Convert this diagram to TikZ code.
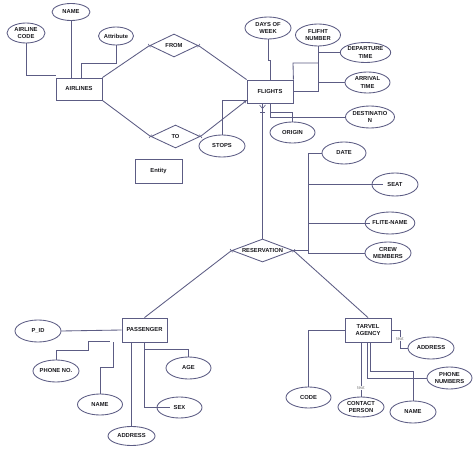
\documentclass[tikz,border=0pt]{standalone}
\usepackage{fontspec}
\setmainfont{Liberation Sans}
\usetikzlibrary{shapes.geometric,arrows.meta}
\definecolor{lc}{RGB}{92,92,132}
\definecolor{tc}{RGB}{25,25,30}
\tikzset{
  lbl/.style={font=\fontsize{5.8}{7.2}\selectfont\bfseries, text=tc, align=center, inner sep=0},
  attrib/.style={ellipse, draw=lc, line width=0.85pt, inner sep=0, lbl},
  ent/.style={rectangle, draw=lc, line width=0.85pt, inner sep=0, lbl},
  rel/.style={diamond, draw=lc, line width=0.85pt, inner sep=0},
  conn/.style={draw=lc, line width=0.85pt},
  tick/.style={-{Bar[width=4pt,line width=0.6pt]}},
  smalltxt/.style={font=\fontsize{4.5}{5}\selectfont, text=black!55, inner sep=0.3pt}
}
\begin{document}
\begin{tikzpicture}[x=1pt,y=-1pt]
\useasboundingbox[fill=white] (0,0) rectangle (474,449);
% entities
\node[ent, minimum width=46, minimum height=22] (airl) at (79,89) {AIRLINES};
\node[ent, minimum width=46, minimum height=23] (flights) at (270,91.5) {FLIGHTS};
\node[ent, minimum width=47, minimum height=24] (entity) at (158.5,171) {Entity};
\node[ent, minimum width=45, minimum height=24] (pass) at (144.5,330) {PASSENGER};
\node[ent, minimum width=46, minimum height=24] (ta) at (368,330) {TARVEL\\AGENCY};
% relationships
\node[rel, minimum width=48, minimum height=23] (from) at (174,45.5) {};
\node[lbl] at (from) {FROM};
\node[rel, minimum width=49, minimum height=23] (to) at (175.5,136.5) {};
\node[lbl] at (to) {TO};
\node[rel, minimum width=61, minimum height=23] (res) at (262.5,250.5) {};
\node[lbl] at (res) {RESERVATION};
% attributes
\node[attrib, minimum width=38, minimum height=20] (acode) at (26,33) {AIRLINE\\CODE};
\node[attrib, minimum width=38, minimum height=17] (aname) at (71,12) {NAME};
\node[attrib, minimum width=35, minimum height=18] (attr) at (116,36) {Attribute};
\node[attrib, minimum width=46, minimum height=22] (stops) at (222,146) {STOPS};
\node[attrib, minimum width=46, minimum height=22] (dow) at (268,28) {DAYS OF\\WEEK};
\node[attrib, minimum width=45, minimum height=22] (fnum) at (318,35) {FLIFHT\\NUMBER};
\node[attrib, minimum width=45, minimum height=20] (dep) at (365.5,52.5) {DEPARTURE\\TIME};
\node[attrib, minimum width=45, minimum height=21] (arr) at (367.5,82.5) {ARRIVAL\\TIME};
\node[attrib, minimum width=46, minimum height=22] (dest) at (370,117) {DESTINATIO\\N};
\node[attrib, minimum width=45, minimum height=21] (orig) at (292.5,132.5) {ORIGIN};
\node[attrib, minimum width=44, minimum height=22] (date) at (344,153) {DATE};
\node[attrib, minimum width=46, minimum height=23] (seat) at (395,184.5) {SEAT};
\node[attrib, minimum width=46, minimum height=22] (fname) at (390,223) {FLITE-NAME};
\node[attrib, minimum width=46, minimum height=22] (crew) at (388,253) {CREW\\MEMBERS};
\node[attrib, minimum width=46, minimum height=22] (pid) at (38,331) {P\_ID};
\node[attrib, minimum width=46, minimum height=22] (phone) at (56,371) {PHONE NO.};
\node[attrib, minimum width=45, minimum height=21] (pname) at (100,404.5) {NAME};
\node[attrib, minimum width=47, minimum height=19] (paddr) at (131.5,436) {ADDRESS};
\node[attrib, minimum width=45, minimum height=22] (age) at (188.5,368) {AGE};
\node[attrib, minimum width=45, minimum height=21] (sex) at (179.5,407.5) {SEX};
\node[attrib, minimum width=45, minimum height=21] (code) at (308.5,397.5) {CODE};
\node[attrib, minimum width=46, minimum height=20] (cp) at (361,407) {CONTACT\\PERSON};
\node[attrib, minimum width=46, minimum height=22] (tname) at (413,412) {NAME};
\node[attrib, minimum width=46, minimum height=22] (taddr) at (431,348) {ADDRESS};
\node[attrib, minimum width=45, minimum height=22] (phnum) at (449.5,378) {PHONE\\NUMBERS};
% small labels
\node[smalltxt] (t1) at (400,339) {text};
\node[smalltxt] (t2) at (361,388) {text};
% airlines attributes
\draw[conn] (acode.south) |- (56,75);
\draw[conn] (aname.south) -- (aname.south |- airl.north);
\draw[conn] (attr.south) |- (81,63) -- (airl.north -| 81,0);
% relationships airlines-flights
\draw[conn,tick] (airl.north east) -- (from.west);
\draw[conn,{Bar[width=4pt,line width=0.6pt]}-] (from.east) -- (flights.north west);
\draw[conn,tick] (airl.south east) -- (to.west);
\draw[conn,{Bar[width=4pt,line width=0.6pt]}-{Stealth[length=3pt,width=3pt]}] (to.east) -- ([yshift=3]flights.south west);
\draw[conn] (stops.north) |- ([yshift=3]flights.south west);
% flights attributes
\draw[conn] (dow.south) -- (268,60) -- (270,60) -- (flights.north -| 270,0);
\draw[conn] (fnum.south) -- (318,91) -- (flights.east |- 0,91);
\draw[conn] (flights.north east) -- (293,63) -- (318,63);
\draw[conn] (dep.west -| fnum.south) -- (dep.west);
\draw[conn] (arr.west -| fnum.south) -- (arr.west);
\draw[conn] (flights.south) |- (dest.west);
\draw[conn] (flights.south |- 0,112) -| (orig.north);
% flights - reservation
\draw[conn] (flights.south -| res.north) -- (res.north);
\draw[conn, line width=0.6pt] (259.5,105) -- (262.5,108.5) -- (265.5,105);
\draw[conn, line width=0.6pt] (260,112) -- (265,112);
% reservation attributes
\draw[conn] (res.east) -- (res.east -| 308,0);
\draw[conn] (date.west) -- (308,153) -- (308,253) -- (crew.west);
\draw[conn] ([xshift=11]seat.west) -- (seat.west -| 308,0);
\draw[conn] ([xshift=5]fname.west) -- (fname.west -| 308,0);
% reservation - passenger / travel agency
\draw[conn,{Bar[width=4pt,line width=0.6pt]}-] (res.west) -- (pass.north);
\draw[conn,{Bar[width=4pt,line width=0.6pt]}-] (res.east) -- (ta.north);
% passenger attributes
\draw[conn] (pid.east) -- (pass.west);
\draw[conn] (phone.north) |- (88,350) |- (110,341);
\draw[conn] (pname.north) |- (113,367) -- (pass.south -| 113,0);
\draw[conn] (paddr.north) -- (paddr.north |- pass.south);
\draw[conn] (pass.south) |- (age.north |- 0,349) -- (age.north);
\draw[conn] (pass.south) |- ([xshift=13]sex.west);
% travel agency attributes
\draw[conn] (ta.west) -| (code.north);
\draw[conn] (ta.east) -| (t1.north);
\draw[conn] (t1.south) |- (taddr.west);
\draw[conn] ([xshift=-1]ta.south) |- (phnum.west);
\draw[conn] ([xshift=2]ta.south) |- (tname.north |- 0,371) -- (tname.north);
\draw[conn] (cp.north |- ta.south) -- (t2.north);
\draw[conn] (t2.south) -- (cp.north);
\end{tikzpicture}
\end{document}
